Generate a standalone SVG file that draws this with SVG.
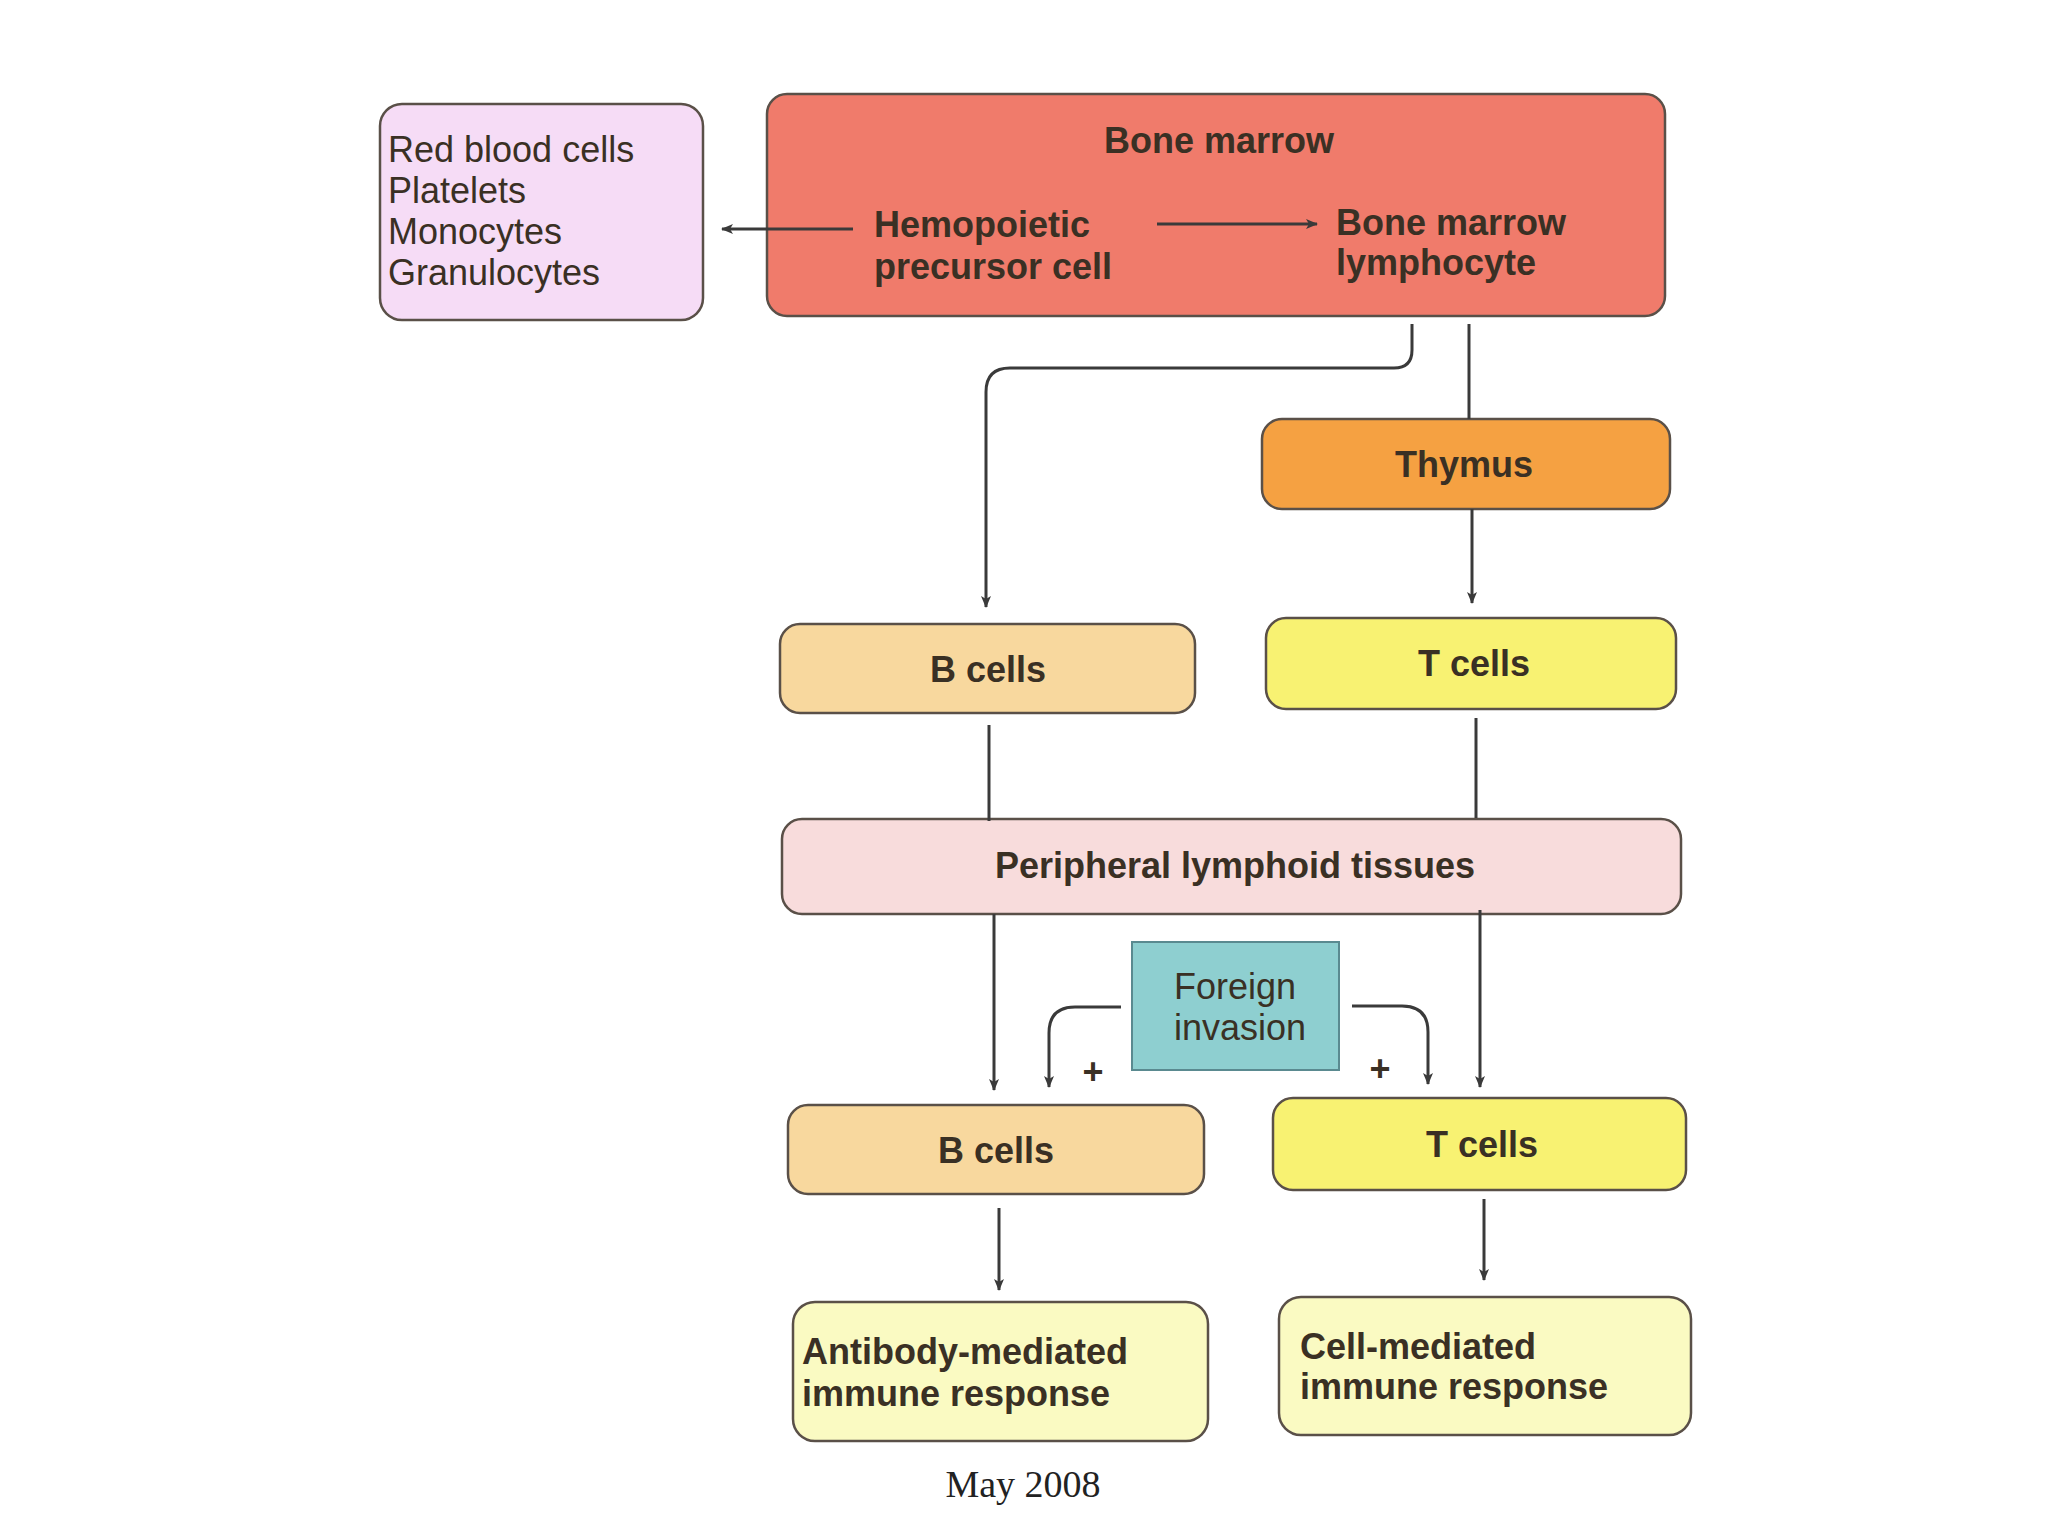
<svg xmlns="http://www.w3.org/2000/svg" width="2048" height="1536" viewBox="0 0 2048 1536">
<style>
.b{stroke:#5a5048;stroke-width:2.5}
.t{font-family:"Liberation Sans",Arial,sans-serif;font-size:36px;fill:#3a3024}
.bold{font-weight:bold}
.c{fill:none;stroke:#3a3a3a;stroke-width:3}
</style>
<defs><marker id="a" markerWidth="12" markerHeight="10" refX="11" refY="5" orient="auto" markerUnits="userSpaceOnUse"><path d="M0,0 L12,5 L0,10 L3,5 Z" fill="#3a3a3a"/></marker>
<marker id="ad" markerWidth="14" markerHeight="24" refX="7" refY="22" orient="auto" markerUnits="userSpaceOnUse" viewBox="0 0 14 24"><path d="M0,0 L14,0 L7,24 Z" fill="#3a3a3a" transform="rotate(-90 7 12)"/></marker></defs>
<rect width="2048" height="1536" fill="#fff"/>
<g id="rbc"><rect class="b" x="380" y="104" width="323" height="216" rx="22" fill="#f6dcf6"/>
<text class="t" x="388" y="162">Red blood cells</text><text class="t" x="388" y="203">Platelets</text><text class="t" x="388" y="244">Monocytes</text><text class="t" x="388" y="285">Granulocytes</text></g>
<g id="bonemarrow"><rect class="b" x="767" y="94" width="898" height="222" rx="20" fill="#f07b6b"/>
<text class="t bold" x="1219" y="153" text-anchor="middle">Bone marrow</text>
<text class="t bold" x="874" y="237">Hemopoietic</text><text class="t bold" x="874" y="279">precursor cell</text>
<text class="t bold" x="1336" y="235">Bone marrow</text><text class="t bold" x="1336" y="275">lymphocyte</text></g>
<g id="thymus"><rect class="b" x="1262" y="419" width="408" height="90" rx="20" fill="#f5a142"/><text class="t bold" x="1464" y="477" text-anchor="middle">Thymus</text></g>
<g id="bcells1"><rect class="b" x="780" y="624" width="415" height="89" rx="20" fill="#f8d89e"/><text class="t bold" x="988" y="682" text-anchor="middle">B cells</text></g>
<g id="tcells1"><rect class="b" x="1266" y="618" width="410" height="91" rx="20" fill="#f8f272"/><text class="t bold" x="1474" y="676" text-anchor="middle">T cells</text></g>
<g id="peripheral"><rect class="b" x="782" y="819" width="899" height="95" rx="20" fill="#f8dcdc"/><text class="t bold" x="1235" y="878" text-anchor="middle">Peripheral lymphoid tissues</text></g>
<g id="foreign"><rect x="1132" y="942" width="207" height="128" fill="#8ecfd0" stroke="#5a8a90" stroke-width="2"/><text class="t" x="1235" y="999" text-anchor="middle">Foreign</text><text class="t" x="1240" y="1040" text-anchor="middle">invasion</text></g>
<g id="bcells2"><rect class="b" x="788" y="1105" width="416" height="89" rx="20" fill="#f8d89e"/><text class="t bold" x="996" y="1163" text-anchor="middle">B cells</text></g>
<g id="tcells2"><rect class="b" x="1273" y="1098" width="413" height="92" rx="20" fill="#f8f272"/><text class="t bold" x="1482" y="1157" text-anchor="middle">T cells</text></g>
<g id="antibody"><rect class="b" x="793" y="1302" width="415" height="139" rx="22" fill="#fafac2"/><text class="t bold" x="802" y="1364">Antibody-mediated</text><text class="t bold" x="802" y="1406">immune response</text></g>
<g id="cellmed"><rect class="b" x="1279" y="1297" width="412" height="138" rx="22" fill="#fafac2"/><text class="t bold" x="1300" y="1359">Cell-mediated</text><text class="t bold" x="1300" y="1399">immune response</text></g>
<g id="connectors">
<line class="c" x1="853" y1="229" x2="722" y2="229" marker-end="url(#a)"/>
<line class="c" x1="1157" y1="224" x2="1317" y2="224" marker-end="url(#a)"/>
<path class="c" d="M1412,324 V350 Q1412,368 1394,368 H1010 Q986,368 986,392 V607" marker-end="url(#a)"/>
<line class="c" x1="1469" y1="324" x2="1469" y2="419"/>
<line class="c" x1="1472" y1="509" x2="1472" y2="603" marker-end="url(#a)"/>
<line class="c" x1="989" y1="725" x2="989" y2="821"/>
<line class="c" x1="1476" y1="718" x2="1476" y2="818"/>
<line class="c" x1="994" y1="914" x2="994" y2="1090" marker-end="url(#a)"/>
<line class="c" x1="1480" y1="910" x2="1480" y2="1087" marker-end="url(#a)"/>
<path class="c" d="M1121,1007 H1075 Q1049,1007 1049,1033 V1087" marker-end="url(#a)"/>
<path class="c" d="M1352,1006 H1402 Q1428,1006 1428,1032 V1084" marker-end="url(#a)"/>
<line class="c" x1="999" y1="1208" x2="999" y2="1290" marker-end="url(#a)"/>
<line class="c" x1="1484" y1="1199" x2="1484" y2="1280" marker-end="url(#a)"/>
</g>
<text class="t bold" x="1093" y="1084" text-anchor="middle">+</text>
<text class="t bold" x="1380" y="1081" text-anchor="middle">+</text>
<text x="1023" y="1497" text-anchor="middle" font-family="Liberation Serif,serif" font-size="38" fill="#222">May 2008</text>
</svg>
